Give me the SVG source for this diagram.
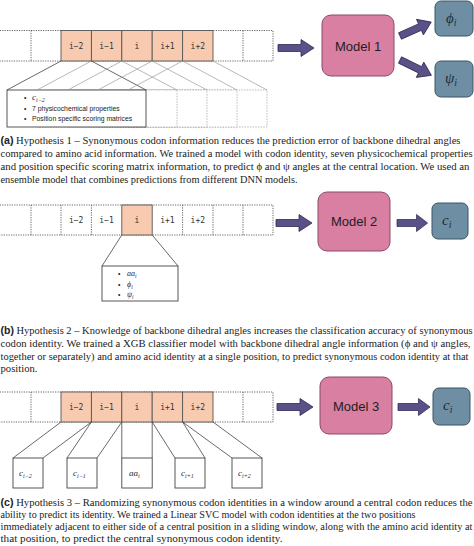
<svg xmlns="http://www.w3.org/2000/svg" width="474" height="546" viewBox="0 0 474 546">
<defs>
<style>
.bg{fill:#fff}
.dot{fill:none;stroke:#555;stroke-width:0.9;stroke-dasharray:1.2,1.2}
.cell{fill:#f8cbb0;stroke:#555;stroke-width:0.9}
.lbl{font-family:"DejaVu Sans Mono","Liberation Mono",monospace;font-size:8px;fill:#333;text-anchor:middle}
.model{fill:#d87fa2;stroke:#8b4a6b;stroke-width:1}
.mtxt{font-family:"Liberation Sans",Arial,sans-serif;font-size:13px;fill:#1e1e1e;text-anchor:middle}
.out{fill:#6e8fa3;stroke:#3d5465;stroke-width:1}
.math{font-family:"Liberation Serif","Times New Roman",serif;font-style:italic;fill:#1e2a3a}
.arrow{fill:#5c5089;stroke:#2f2852;stroke-width:0.8}
.front{fill:#fff;stroke:#444;stroke-width:0.9}
.back{fill:#fff;stroke:#aaa;stroke-width:0.8;stroke-dasharray:1.5,1.2}
.ln{stroke:#444;stroke-width:0.8;fill:none}
.lnl{stroke:#999;stroke-width:0.7;fill:none}
.btxt{font-family:"Liberation Sans",Arial,sans-serif;font-size:6.8px;fill:#222}
.cap{font-family:"Liberation Serif","Times New Roman",serif;font-size:10.3px;fill:#222}
.capb{font-family:"Liberation Sans",Arial,sans-serif;font-weight:bold}
.box{fill:#fff;stroke:#444;stroke-width:0.9}
</style>
<path id="arr" d="M0,-3.5 H23 V-8.5 L36,0 L23,8.5 V3.5 H0 Z"/>
</defs>
<rect class="bg" x="0" y="0" width="474" height="546"/>

<!-- ============ Panel (a) ============ -->
<g id="a-sequence">
<path class="dot" d="M-5,30.5 H273 V61 H-5 M31,30.5 V61 M243,30.5 V61"/>
<rect class="cell" x="61" y="30.5" width="30.4" height="30.5"/>
<rect class="cell" x="91.4" y="30.5" width="30.4" height="30.5"/>
<rect class="cell" x="121.8" y="30.5" width="30.4" height="30.5"/>
<rect class="cell" x="152.2" y="30.5" width="30.4" height="30.5"/>
<rect class="cell" x="182.6" y="30.5" width="30.4" height="30.5"/>
<text class="lbl" x="76.2" y="48.5">i−2</text>
<text class="lbl" x="106.6" y="48.5">i−1</text>
<text class="lbl" x="137" y="48.5">i</text>
<text class="lbl" x="167.4" y="48.5">i+1</text>
<text class="lbl" x="197.8" y="48.5">i+2</text>
</g>
<g id="a-features">
<rect class="back" x="128" y="90" width="139" height="37"/>
<rect class="back" x="98" y="90" width="139" height="37"/>
<rect class="back" x="68" y="90" width="139" height="37"/>
<rect class="back" x="37" y="90" width="140" height="37"/>
<rect class="front" x="7" y="90" width="139" height="37"/>
<text class="btxt" x="24" y="100">•</text>
<text x="32" y="100"><tspan class="math" font-size="9">c</tspan><tspan class="math" font-size="6" dy="2">i−2</tspan></text>
<text class="btxt" x="24" y="111">•</text>
<text class="btxt" x="32" y="111">7 physicochemical properties</text>
<text class="btxt" x="24" y="121">•</text>
<text class="btxt" x="32" y="121">Position specific scoring matrices</text>
</g>
<g id="a-model1">
<rect class="model" x="322" y="15" width="72" height="61" rx="9"/>
<text class="mtxt" x="358" y="50.5">Model 1</text>
</g>
<g id="a-phi">
<rect class="out" x="435" y="1" width="38" height="35" rx="6"/>
<text x="446" y="23"><tspan class="math" font-size="15">ϕ</tspan><tspan class="math" font-size="10" dy="3">i</tspan></text>
</g>
<g id="a-psi">
<rect class="out" x="435" y="61" width="38" height="36" rx="6"/>
<text x="445" y="83"><tspan class="math" font-size="15">ψ</tspan><tspan class="math" font-size="10" dy="3">i</tspan></text>
</g>
<g id="a-connectors">
<path class="ln" d="M61,61 L7,90 M91.4,61 L146,90"/>
<path class="lnl" d="M91.4,61 L37,90 M121.8,61 L177,90 M121.8,61 L68,90 M152.2,61 L207,90 M152.2,61 L98,90 M182.6,61 L237,90 M182.6,61 L128,90 M213,61 L267,90"/>
<use href="#arr" class="arrow" transform="translate(278,48)"/>
<use href="#arr" class="arrow" transform="translate(400,36) rotate(-24) scale(0.95,1)"/>
<use href="#arr" class="arrow" transform="translate(400,60) rotate(26) scale(0.97,1)"/>
</g>
<g id="a-caption">
<text class="cap" x="0.5" y="144" textLength="460" lengthAdjust="spacingAndGlyphs"><tspan class="capb">(a)</tspan> Hypothesis 1 – Synonymous codon information reduces the prediction error of backbone dihedral angles</text>
<text class="cap" x="0.5" y="157" textLength="472" lengthAdjust="spacingAndGlyphs">compared to amino acid information. We trained a model with codon identity, seven physicochemical properties</text>
<text class="cap" x="0.5" y="170" textLength="469" lengthAdjust="spacingAndGlyphs">and position specific scoring matrix information, to predict ϕ and ψ angles at the central location. We used an</text>
<text class="cap" x="0.5" y="183" textLength="297" lengthAdjust="spacingAndGlyphs">ensemble model that combines predictions from different DNN models.</text>
</g>

<!-- ============ Panel (b) ============ -->
<g id="b-sequence">
<path class="dot" d="M-5,205 H273 V235 H-5 M31,205 V235 M61,205 V235 M91.4,205 V235 M182.6,205 V235 M213,205 V235 M243,205 V235"/>
<rect class="cell" x="121.8" y="205" width="30.4" height="30"/>
<text class="lbl" x="76.2" y="223">i−2</text>
<text class="lbl" x="106.6" y="223">i−1</text>
<text class="lbl" x="137" y="223">i</text>
<text class="lbl" x="167.4" y="223">i+1</text>
<text class="lbl" x="197.8" y="223">i+2</text>
</g>
<g id="b-features">
<rect class="box" x="102" y="266" width="76" height="35"/>
<text class="btxt" x="118" y="276">•</text>
<text x="127" y="276"><tspan class="math" font-size="8">aa</tspan><tspan class="math" font-size="5.5" dy="1.5">i</tspan></text>
<text class="btxt" x="118" y="287">•</text>
<text x="127" y="287"><tspan class="math" font-size="8">ϕ</tspan><tspan class="math" font-size="5.5" dy="1.5">i</tspan></text>
<text class="btxt" x="118" y="297">•</text>
<text x="127" y="297"><tspan class="math" font-size="8">ψ</tspan><tspan class="math" font-size="5.5" dy="1.5">i</tspan></text>
</g>
<g id="b-model2">
<rect class="model" x="318" y="192" width="72" height="59" rx="9"/>
<text class="mtxt" x="354" y="226">Model 2</text>
</g>
<g id="b-ci">
<rect class="out" x="432" y="203" width="36" height="36" rx="6"/>
<text x="442" y="225"><tspan class="math" font-size="15">c</tspan><tspan class="math" font-size="10" dy="3">i</tspan></text>
</g>
<g id="b-connectors">
<path class="ln" d="M121.8,235 L102,266 M152.2,235 L178,266"/>
<use href="#arr" class="arrow" transform="translate(276,223)"/>
<use href="#arr" class="arrow" transform="translate(397,223) scale(0.85,1)"/>
</g>
<g id="b-caption">
<text class="cap" x="0.5" y="334" textLength="472" lengthAdjust="spacingAndGlyphs"><tspan class="capb">(b)</tspan> Hypothesis 2 – Knowledge of backbone dihedral angles increases the classification accuracy of synonymous</text>
<text class="cap" x="0.5" y="347" textLength="470" lengthAdjust="spacingAndGlyphs">codon identity. We trained a XGB classifier model with backbone dihedral angle information (ϕ and ψ angles,</text>
<text class="cap" x="0.5" y="359.5" textLength="468" lengthAdjust="spacingAndGlyphs">together or separately) and amino acid identity at a single position, to predict synonymous codon identity at that</text>
<text class="cap" x="0.5" y="372" textLength="37" lengthAdjust="spacingAndGlyphs">position.</text>
</g>

<!-- ============ Panel (c) ============ -->
<g id="c-sequence">
<path class="dot" d="M-5,392 H273 V422 H-5 M31,392 V422 M243,392 V422"/>
<rect class="cell" x="61" y="392" width="30.4" height="30"/>
<rect class="cell" x="91.4" y="392" width="30.4" height="30"/>
<rect class="cell" x="121.8" y="392" width="30.4" height="30"/>
<rect class="cell" x="152.2" y="392" width="30.4" height="30"/>
<rect class="cell" x="182.6" y="392" width="30.4" height="30"/>
<text class="lbl" x="76.2" y="410">i−2</text>
<text class="lbl" x="106.6" y="410">i−1</text>
<text class="lbl" x="137" y="410">i</text>
<text class="lbl" x="167.4" y="410">i+1</text>
<text class="lbl" x="197.8" y="410">i+2</text>
</g>
<g id="c-box-cim2">
<rect class="box" x="13" y="458" width="30" height="30"/>
<text x="19" y="476"><tspan class="math" font-size="9">c</tspan><tspan class="math" font-size="6" dy="2">i−2</tspan></text>
</g>
<g id="c-box-cim1">
<rect class="box" x="67" y="458" width="30" height="30"/>
<text x="73" y="476"><tspan class="math" font-size="9">c</tspan><tspan class="math" font-size="6" dy="2">i−1</tspan></text>
</g>
<g id="c-box-aai">
<rect class="box" x="121.8" y="458" width="30.4" height="30"/>
<text x="129" y="476"><tspan class="math" font-size="9">aa</tspan><tspan class="math" font-size="6" dy="2">i</tspan></text>
</g>
<g id="c-box-cip1">
<rect class="box" x="175" y="458" width="30" height="30"/>
<text x="181" y="476"><tspan class="math" font-size="9">c</tspan><tspan class="math" font-size="6" dy="2">i+1</tspan></text>
</g>
<g id="c-box-cip2">
<rect class="box" x="232" y="458" width="30" height="30"/>
<text x="238" y="476"><tspan class="math" font-size="9">c</tspan><tspan class="math" font-size="6" dy="2">i+2</tspan></text>
</g>
<g id="c-model3">
<rect class="model" x="320" y="377" width="72" height="57" rx="9"/>
<text class="mtxt" x="356" y="411">Model 3</text>
</g>
<g id="c-ci">
<rect class="out" x="433" y="388" width="37" height="37" rx="6"/>
<text x="443" y="410"><tspan class="math" font-size="15">c</tspan><tspan class="math" font-size="10" dy="3">i</tspan></text>
</g>
<g id="c-connectors">
<path class="ln" d="M61,422 L13,458 M91.4,422 L43,458 M91.4,422 L67,458 M121.8,422 L97,458 M121.8,422 V458 M152.2,422 V458 M152.2,422 L175,458 M182.6,422 L205,458 M182.6,422 L232,458 M213,422 L262,458"/>
<use href="#arr" class="arrow" transform="translate(277,407)"/>
<use href="#arr" class="arrow" transform="translate(398,407) scale(0.89,1)"/>
</g>
<g id="c-caption">
<text class="cap" x="0.5" y="505.5" textLength="472" lengthAdjust="spacingAndGlyphs"><tspan class="capb">(c)</tspan> Hypothesis 3 – Randomizing synonymous codon identities in a window around a central codon reduces the</text>
<text class="cap" x="0.5" y="517.5" textLength="415" lengthAdjust="spacingAndGlyphs">ability to predict its identity. We trained a Linear SVC model with codon identities at the two positions</text>
<text class="cap" x="0.5" y="529.5" textLength="472" lengthAdjust="spacingAndGlyphs">immediately adjacent to either side of a central position in a sliding window, along with the amino acid identity at</text>
<text class="cap" x="0.5" y="541.5" textLength="282" lengthAdjust="spacingAndGlyphs">that position, to predict the central synonymous codon identity.</text>
</g>
</svg>
